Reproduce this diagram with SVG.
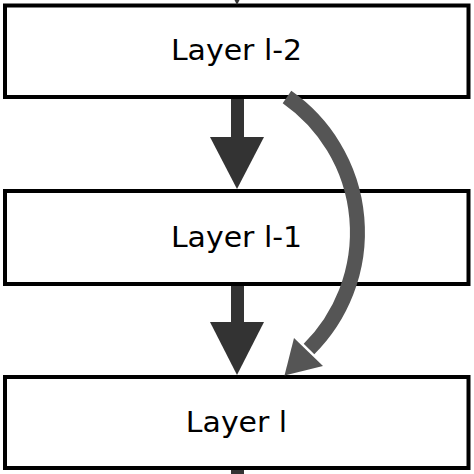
<svg xmlns="http://www.w3.org/2000/svg" width="474" height="474" viewBox="0 0 474 474">
<style>
.box{fill:#fff;stroke:#000;stroke-width:4}
.lbl{font-family:"DejaVu Sans",sans-serif;font-size:28px;fill:#000;text-anchor:middle}
.dark{fill:#333}
.skip{fill:none;stroke:#555;stroke-width:15}
</style>
<rect width="474" height="474" fill="#fff"/>
<g id="node-l2">
<rect class="box" x="5" y="5.5" width="463.5" height="91.5"/>
<text class="lbl" transform="translate(236.5,60) scale(1.07,1)">Layer l-2</text>
</g>
<g id="node-l1">
<rect class="box" x="5" y="191" width="463.5" height="93"/>
<text class="lbl" transform="translate(236.5,246.5) scale(1.07,1)">Layer l-1</text>
</g>
<g id="node-l">
<rect class="box" x="5" y="377" width="463.5" height="91"/>
<text class="lbl" transform="translate(236.5,432) scale(1.07,1)">Layer l</text>
</g>
<g id="connectors">
<polygon class="dark" points="234.5,0 239.5,0 237,5"/>
<rect class="dark" x="231" y="99" width="13" height="39"/>
<polygon class="dark" points="210,137 264,137 237,189"/>
<rect class="dark" x="231" y="286" width="13" height="37"/>
<polygon class="dark" points="210,322 264,322 237,375"/>
<rect class="dark" x="231" y="470" width="13" height="4"/>
<path class="skip" d="M 287 97 A 165 165 0 0 1 309 349"/>
<polygon fill="#555" points="294,338 323,366 284.5,375.5"/>
</g>
</svg>
